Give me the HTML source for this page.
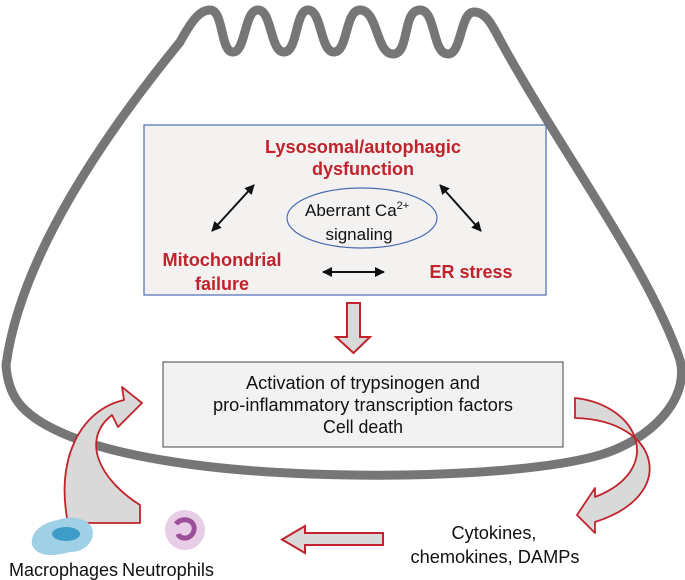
<!DOCTYPE html>
<html><head><meta charset="utf-8"><style>
body{margin:0;background:#fff;}
svg{display:block}
text{font-family:"Liberation Sans",Arial,sans-serif;}
</style></head><body>
<svg width="685" height="580" viewBox="0 0 685 580" xmlns="http://www.w3.org/2000/svg">
<defs>
<marker id="ah" viewBox="0 0 10 10" refX="9" refY="5" markerWidth="5" markerHeight="5" orient="auto-start-reverse"><path d="M0,0 L10,5 L0,10 z" fill="#111"/></marker>
</defs>
<path d="M 6,365 C 20,260 100,140 180,42
 C 192,20 200,10 210,10 C 224,10 220,52 233,52 C 246,52 244,10 258,10
 C 272,10 270,52 284,52 C 298,52 295,10 308,10 C 322,10 320,52 334,52
 C 348,52 345,10 360,10 C 378,10 376,54 393,54 C 410,54 402,10 420,10
 C 436,10 432,54 448,54 C 462,54 460,12 474,12 C 486,12 492,25 500,40
 C 560,150 650,270 680,360 C 690,400 650,440 600,455 C 540,472 420,478 310,474
 C 200,470 110,455 60,432 C 20,414 8,395 6,365 Z" fill="none" stroke="#767676" stroke-width="9" stroke-linejoin="round"/>
<rect x="144" y="125" width="402" height="170" fill="#f3f2f1" stroke="#4a6db0" stroke-width="1.2"/>
<text x="363" y="153" font-size="18" font-weight="bold" fill="#c0232b" text-anchor="middle" textLength="196" lengthAdjust="spacingAndGlyphs">Lysosomal/autophagic</text>
<text x="363" y="175" font-size="18" font-weight="bold" fill="#c0232b" text-anchor="middle">dysfunction</text>
<ellipse cx="362" cy="218" rx="75" ry="30" fill="none" stroke="#4a6db0" stroke-width="1.2"/>
<text x="305" y="216" font-size="17" fill="#111">Aberrant Ca<tspan font-size="11" dy="-7">2+</tspan></text>
<text x="359" y="240" font-size="17" fill="#111" text-anchor="middle">signaling</text>
<text x="222" y="266" font-size="18" font-weight="bold" fill="#c0232b" text-anchor="middle" textLength="119" lengthAdjust="spacingAndGlyphs">Mitochondrial</text>
<text x="222" y="290" font-size="18" font-weight="bold" fill="#c0232b" text-anchor="middle">failure</text>
<text x="471" y="278" font-size="18" font-weight="bold" fill="#c0232b" text-anchor="middle">ER stress</text>
<line x1="254" y1="185" x2="212" y2="231" stroke="#111" stroke-width="2" marker-start="url(#ah)" marker-end="url(#ah)"/>
<line x1="440" y1="185" x2="481" y2="231" stroke="#111" stroke-width="2" marker-start="url(#ah)" marker-end="url(#ah)"/>
<line x1="323" y1="272" x2="384" y2="272" stroke="#111" stroke-width="2" marker-start="url(#ah)" marker-end="url(#ah)"/>
<path d="M347,303 L360,303 L360,337 L370,337 L353.5,353 L336,337 L347,337 Z" fill="#d9d9d9" stroke="#c0232b" stroke-width="2"/>
<rect x="163" y="362" width="400" height="85" fill="#f2f2f2" stroke="#444" stroke-width="1"/>
<text x="363" y="389" font-size="18" fill="#111" text-anchor="middle" textLength="234" lengthAdjust="spacingAndGlyphs">Activation of trypsinogen and</text>
<text x="363" y="411" font-size="18" fill="#111" text-anchor="middle" textLength="300" lengthAdjust="spacingAndGlyphs">pro-inflammatory transcription factors</text>
<text x="363" y="433" font-size="18" fill="#111" text-anchor="middle" textLength="80" lengthAdjust="spacingAndGlyphs">Cell death</text>
<path d="M68,523 L140,523 L140,505 C 100,480 80,440 112,415 L118,427 L142,403 L122,387 L124,400 C 80,410 55,460 68,523 Z" fill="#d9d9d9" stroke="#c0232b" stroke-width="1.8" stroke-linejoin="round"/>
<path d="M575,398 C 640,405 665,470 595,497 L595,488 L577,515 L595,533 L595,522 C 680,495 660,420 575,418 Z" fill="#d9d9d9" stroke="#c0232b" stroke-width="1.8" stroke-linejoin="round"/>
<path d="M383,533 L305,533 L305,526 L282,539.5 L305,553 L305,545 L383,545 Z" fill="#d9d9d9" stroke="#c0232b" stroke-width="2"/>
<text x="494" y="539" font-size="18" fill="#111" text-anchor="middle" textLength="85" lengthAdjust="spacingAndGlyphs">Cytokines,</text>
<text x="495" y="563" font-size="18" fill="#111" text-anchor="middle" textLength="169" lengthAdjust="spacingAndGlyphs">chemokines, DAMPs</text>
<path d="M32,545 C 30,530 45,522 58,520 C 70,515 88,518 92,528 C 96,540 86,552 70,552 C 55,556 38,558 32,545 Z" fill="#9fd0e6"/>
<ellipse cx="66" cy="534" rx="14" ry="7" fill="#3d9cc8"/>
<circle cx="185" cy="530" r="20" fill="#e7cde6"/>
<path d="M176,524 C 182,516 196,520 194,530 C 192,540 180,540 178,534" fill="none" stroke="#9c4f98" stroke-width="5"/>
<text x="9" y="576" font-size="18" fill="#111" textLength="109" lengthAdjust="spacingAndGlyphs">Macrophages</text>
<text x="122" y="576" font-size="18" fill="#111" textLength="92" lengthAdjust="spacingAndGlyphs">Neutrophils</text>
</svg>
</body></html>
